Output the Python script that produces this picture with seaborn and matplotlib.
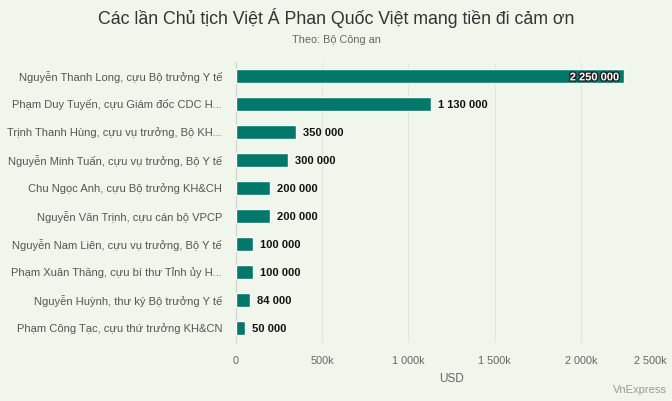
import matplotlib
matplotlib.use('Agg')
import matplotlib.pyplot as plt
import matplotlib.patheffects as pe
import seaborn as sns
import pandas as pd

names = [
    'Nguyễn Thanh Long, cựu Bộ trưởng Y tế',
    'Phạm Duy Tuyến, cựu Giám đốc CDC H...',
    'Trịnh Thanh Hùng, cựu vụ trưởng, Bộ KH...',
    'Nguyễn Minh Tuấn, cựu vụ trưởng, Bộ Y tế',
    'Chu Ngọc Anh, cựu Bộ trưởng KH&CH',
    'Nguyễn Văn Trịnh, cựu cán bộ VPCP',
    'Nguyễn Nam Liên, cựu vụ trưởng, Bộ Y tế',
    'Phạm Xuân Thăng, cựu bí thư Tỉnh ủy H...',
    'Nguyễn Huỳnh, thư ký Bộ trưởng Y tế',
    'Phạm Công Tạc, cựu thứ trưởng KH&CN',
]
amounts = [2250000, 1130000, 350000, 300000, 200000, 200000, 100000, 100000, 84000, 50000]
ticks = [0, 500000, 1000000, 1500000, 2000000, 2500000]
tick_labels = ['0', '500k', '1 000k', '1 500k', '2 000k', '2 500k']

bg = '#f0f6eb'
bar_color = '#02786b'

sns.set_theme(style='white')
plt.rcParams['font.family'] = ['Liberation Sans', 'DejaVu Sans']

df = pd.DataFrame({'name': names, 'usd': amounts})

fig = plt.figure(figsize=(6.72, 4.01), dpi=100, facecolor=bg)
ax = fig.add_axes([236 / 672, 1 - 342 / 401, (667 - 236) / 672, (342 - 62) / 401])
ax.set_facecolor(bg)

sns.barplot(data=df, x='usd', y='name', color=bar_color, width=0.5,
            saturation=1, ax=ax, zorder=3)

ax.set_xlim(0, 2500000)
ax.set_xticks(ticks)
ax.set_xticklabels(tick_labels)
ax.get_xticklabels()[-1].set_ha('right')
ax.grid(axis='x', color='#e1e6dc', linewidth=0.8, zorder=0)
for s in ['top', 'right', 'bottom']:
    ax.spines[s].set_visible(False)
ax.spines['left'].set_color('#ccd6cc')
ax.spines['left'].set_linewidth(0.8)
ax.tick_params(axis='x', colors='#666666', labelsize=7.8, length=0, pad=10)
ax.tick_params(axis='y', colors='#555555', labelsize=8, length=0, pad=10)
ax.set_xlabel('USD', color='#666666', fontsize=8.5, labelpad=5)
ax.set_ylabel('')

def fmt(v):
    return f'{v:,}'.replace(',', ' ')

for i, v in enumerate(amounts):
    if i == 0:
        ax.annotate(fmt(v), (v, i), xytext=(-3, -1), textcoords='offset points',
                    ha='right', va='center', fontsize=8, fontweight='bold',
                    color='white', zorder=5,
                    path_effects=[pe.withStroke(linewidth=2, foreground='#222222')])
    else:
        ax.annotate(fmt(v), (v, i), xytext=(5, -1), textcoords='offset points',
                    ha='left', va='center', fontsize=8, fontweight='bold',
                    color='#111111', zorder=5)

fig.text(0.5, 1 - 18 / 401, 'Các lần Chủ tịch Việt Á Phan Quốc Việt mang tiền đi cảm ơn',
         ha='center', va='center', fontsize=12.8, color='#333333')
fig.text(0.5, 1 - 40 / 401, 'Theo: Bộ Công an', ha='center', va='center',
         fontsize=7.8, color='#666666')
fig.text(667 / 672, 1 - 390 / 401, 'VnExpress', ha='right', va='center',
         fontsize=8, color='#999999')

fig.savefig('out.png', dpi=100, facecolor=bg)
